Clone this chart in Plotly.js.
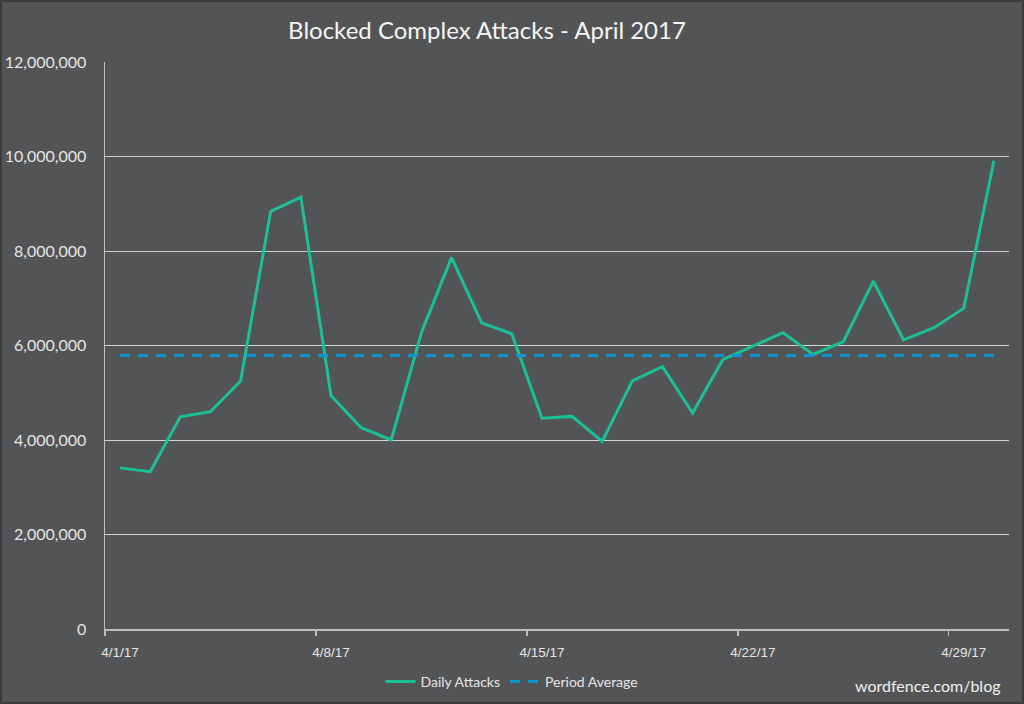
<!DOCTYPE html>
<html>
<head>
<meta charset="utf-8">
<script src="https://cdn.plot.ly/plotly-3.0.1.min.js"></script>
<style>
  body { margin: 0; background: #535456; }
  #wrap { position: relative; width: 1024px; height: 704px; }
  #chart { width: 1024px; height: 704px; }
  #frame { position: absolute; left: 0; top: 0; width: 1024px; height: 704px;
           box-sizing: border-box; border: 2px solid #3b3b3c; pointer-events: none; }
</style>
</head>
<body>
<div id="wrap">
  <div id="chart"></div>
  <div id="frame"></div>
</div>
<script>
// days of April 2017
const dates = [
  '2017-04-01', '2017-04-02', '2017-04-03', '2017-04-04', '2017-04-05',
  '2017-04-06', '2017-04-07', '2017-04-08', '2017-04-09', '2017-04-10',
  '2017-04-11', '2017-04-12', '2017-04-13', '2017-04-14', '2017-04-15',
  '2017-04-16', '2017-04-17', '2017-04-18', '2017-04-19', '2017-04-20',
  '2017-04-21', '2017-04-22', '2017-04-23', '2017-04-24', '2017-04-25',
  '2017-04-26', '2017-04-27', '2017-04-28', '2017-04-29', '2017-04-30'
];

// blocked attacks per day
const dailyAttacks = [
  3410000, 3330000, 4490000, 4600000, 5250000,
  8840000, 9140000, 4940000, 4260000, 4000000,
  6270000, 7860000, 6480000, 6250000, 4460000,
  4500000, 3970000, 5250000, 5550000, 4570000,
  5700000, 5980000, 6270000, 5810000, 6080000,
  7360000, 6120000, 6370000, 6790000, 9910000
];

const periodAverage = 5790000;

const tickDates = ['2017-04-01', '2017-04-08', '2017-04-15', '2017-04-22', '2017-04-29'];
const tickLabels = ['4/1/17', '4/8/17', '4/15/17', '4/22/17', '4/29/17'];

const FONT = 'Lato, "Open Sans", sans-serif';

const traces = [
  {
    type: 'scatter',
    mode: 'lines',
    name: 'Daily Attacks',
    x: dates,
    y: dailyAttacks,
    line: { color: '#1bbf98', width: 3 }
  },
  {
    type: 'scatter',
    mode: 'lines',
    name: 'Period Average',
    x: [dates[0], dates[dates.length - 1]],
    y: [periodAverage, periodAverage],
    line: { color: '#0e94d2', width: 3, dash: '10px,8px' }
  }
];

const layout = {
  width: 1024,
  height: 704,
  paper_bgcolor: '#535456',
  plot_bgcolor: '#535456',
  margin: { l: 105, r: 15, t: 62, b: 75 },
  font: { family: FONT, color: '#e6e6e6', size: 14 },
  title: {
    text: 'Blocked Complex Attacks - April 2017',
    font: { family: FONT, size: 24, color: '#f4f4f4' },
    xref: 'container', x: 487 / 1024, xanchor: 'center',
    yref: 'container', y: 1 - 31 / 704, yanchor: 'middle'
  },
  showlegend: true,
  legend: {
    orientation: 'h',
    xref: 'container', x: 0.5, xanchor: 'center',
    yref: 'container', y: 1 - 682 / 704, yanchor: 'middle',
    font: { family: FONT, size: 14, color: '#e6e6e6' },
    bgcolor: 'rgba(0,0,0,0)'
  },
  xaxis: {
    type: 'date',
    range: ['2017-03-31 12:00', '2017-04-30 12:00'],
    tickvals: tickDates,
    ticktext: tickLabels,
    ticks: '',
    ticklabelstandoff: 10,
    tickfont: { family: '"Liberation Sans", Arial, sans-serif', size: 13.5, color: '#e6e6e6' },
    showgrid: false,
    zeroline: false,
    showline: true,
    linecolor: '#bdbdbd',
    linewidth: 1.5,
    minor: {
      tick0: '2017-03-31 12:00',
      dtick: 7 * 86400000,
      ticks: 'outside',
      ticklen: 5,
      tickcolor: '#bdbdbd',
      tickwidth: 1.5,
      showgrid: false
    },
    fixedrange: true
  },
  yaxis: {
    range: [0, 12000000],
    dtick: 2000000,
    tickformat: ',d',
    tickfont: { family: FONT, size: 16, color: '#e6e6e6' },
    ticks: '',
    ticklabelstandoff: 14,
    showgrid: true,
    gridcolor: '#d4d4d4',
    gridwidth: 1,
    zeroline: false,
    showline: true,
    linecolor: '#bdbdbd',
    linewidth: 1.5,
    fixedrange: true
  },
  annotations: [
    {
      text: 'wordfence.com/blog',
      xref: 'paper', yref: 'paper',
      x: (1003 - 105) / 904, y: (629 - 685) / 567,
      xanchor: 'right', yanchor: 'middle',
      showarrow: false,
      font: { family: FONT, size: 16, color: '#f0f0f0' }
    }
  ]
};

Plotly.newPlot('chart', traces, layout, { displayModeBar: false, staticPlot: true });
</script>
</body>
</html>
